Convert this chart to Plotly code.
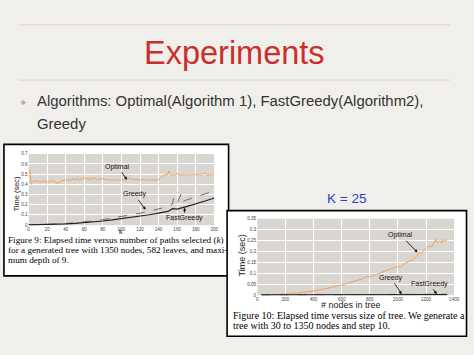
import plotly.graph_objects as go

W, H = 474, 355

# ---------------- data: Figure 9 (time vs k) ----------------
k_opt = [1, 2, 3, 4, 6, 8, 10, 12, 14, 16,
         18, 20, 22, 24, 26, 28, 30, 32, 34, 36,
         38, 40, 42, 44, 46, 48, 50, 52, 54, 56,
         58, 60, 62, 64, 66, 68, 70, 72, 74, 76,
         78, 80, 82, 84, 86, 88, 90, 92, 94, 96,
         98, 100, 104, 108, 112, 116, 120, 124, 128, 132,
         136, 140, 142, 144, 146, 148, 150, 151, 152, 154,
         156, 158, 160, 162, 164, 166, 168, 170, 172, 174,
         176, 178, 180, 182, 184, 186, 188, 190, 192, 194,
         196, 198, 200]
t_opt = [0.55, 0.47, 0.40, 0.42, 0.44, 0.425, 0.435, 0.42, 0.43, 0.425,
         0.435, 0.42, 0.43, 0.425, 0.44, 0.43, 0.41, 0.415, 0.42, 0.44,
         0.435, 0.45, 0.43, 0.455, 0.435, 0.46, 0.44, 0.465, 0.435, 0.455,
         0.44, 0.47, 0.445, 0.46, 0.44, 0.47, 0.445, 0.465, 0.44, 0.455,
         0.44, 0.46, 0.445, 0.45, 0.44, 0.445, 0.44, 0.445, 0.44, 0.442,
         0.44, 0.445, 0.44, 0.46, 0.445, 0.45, 0.44, 0.445, 0.44, 0.445,
         0.44, 0.445, 0.46, 0.48, 0.49, 0.495, 0.50, 0.53, 0.50, 0.49,
         0.495, 0.49, 0.51, 0.49, 0.495, 0.49, 0.50, 0.49, 0.495, 0.49,
         0.495, 0.49, 0.50, 0.49, 0.495, 0.49, 0.50, 0.515, 0.49, 0.495,
         0.49, 0.50, 0.495]

k_greedy = [0, 10, 20, 30, 40, 50, 60, 70, 80, 90, 100, 110, 120, 130, 140,
            150, 155, 156, 157, 160, 164, 165, 170, 180, 190, 200]
t_greedy = [0.002, 0.003, 0.005, 0.008, 0.014, 0.021, 0.030, 0.040, 0.052, 0.066,
            0.080, 0.097, 0.115, 0.135, 0.157, 0.180, 0.205, 0.26, 0.20, 0.215,
            0.30, 0.225, 0.245, 0.272, 0.305, 0.340]

k_fast = [0, 10, 20, 30, 40, 50, 60, 70, 80, 90, 100, 110, 120, 130, 140,
          150, 155, 160, 170, 180, 190, 200]
t_fast = [0.001, 0.002, 0.004, 0.007, 0.011, 0.016, 0.022, 0.030, 0.039, 0.049,
          0.060, 0.072, 0.086, 0.100, 0.116, 0.133, 0.160, 0.155, 0.180, 0.205,
          0.235, 0.265]

# ---------------- data: Figure 10 (time vs tree size) ----------------
n_opt = [30, 100, 150, 200, 250, 300, 350, 400, 450, 500, 550, 600, 650, 700,
         750, 780, 800, 850, 900, 950, 1000, 1020, 1050, 1100, 1130, 1150, 1170,
         1200, 1220, 1240, 1260, 1270, 1280, 1300, 1310, 1320, 1330, 1350]
s_opt = [0.0, 0.001, 0.002, 0.004, 0.007, 0.010, 0.014, 0.018, 0.024, 0.030,
         0.037, 0.045, 0.055, 0.064, 0.074, 0.085, 0.083, 0.095, 0.108, 0.120,
         0.130, 0.128, 0.145, 0.160, 0.175, 0.190, 0.195, 0.212, 0.225, 0.220,
         0.240, 0.255, 0.240, 0.250, 0.238, 0.255, 0.245, 0.252]
n_small = [30, 200, 400, 600, 800, 1000, 1200, 1350]
s_greedy = [0.0005, 0.0008, 0.0010, 0.0015, 0.0020, 0.0025, 0.0030, 0.0035]
s_fast = [0.0003, 0.0004, 0.0005, 0.0007, 0.0009, 0.0011, 0.0013, 0.0015]

k_ticks = [0, 20, 40, 60, 80, 100, 120, 140, 160, 180, 200]
t1_ticks = [0, 0.1, 0.2, 0.3, 0.4, 0.5, 0.6, 0.7]
t1_labels = ["0", "0.1", "0.2", "0.3", "0.4", "0.5", "0.6", "0.7"]
n_ticks = [0, 200, 400, 600, 800, 1000, 1200, 1400]
t2_ticks = [0, 0.05, 0.1, 0.15, 0.2, 0.25, 0.3, 0.35]
t2_labels = ["0", "0.05", "0.1", "0.15", "0.2", "0.25", "0.3", "0.35"]

# ---------------- styling ----------------
ORANGE = "#eea060"
GREY = "#6e6e6e"
BLACK = "#222222"
PLOTBG = "#d9d6d1"
SANS = "Liberation Sans, Arial, sans-serif"
SERIF = "Liberation Serif, Times New Roman, serif"


def px(x):
    return x / W


def py(y):
    return 1 - y / H


fig = go.Figure()

fig.add_trace(go.Scatter(x=k_opt, y=t_opt, mode="lines", line=dict(color=ORANGE, width=1),
                         xaxis="x", yaxis="y", showlegend=False))
fig.add_trace(go.Scatter(x=k_greedy, y=t_greedy, mode="lines",
                         line=dict(color=GREY, width=1, dash="dash"),
                         xaxis="x", yaxis="y", showlegend=False))
fig.add_trace(go.Scatter(x=k_fast, y=t_fast, mode="lines", line=dict(color=BLACK, width=1.2),
                         xaxis="x", yaxis="y", showlegend=False))

fig.add_trace(go.Scatter(x=n_opt, y=s_opt, mode="lines", line=dict(color=ORANGE, width=1),
                         xaxis="x2", yaxis="y2", showlegend=False))
fig.add_trace(go.Scatter(x=n_small, y=s_greedy, mode="lines",
                         line=dict(color=GREY, width=1, dash="dash"),
                         xaxis="x2", yaxis="y2", showlegend=False))
fig.add_trace(go.Scatter(x=n_small, y=s_fast, mode="lines", line=dict(color=BLACK, width=1.2),
                         xaxis="x2", yaxis="y2", showlegend=False))

tickfont = dict(family=SANS, size=4.6, color="#444444")
axis_common = dict(showgrid=True, gridcolor="white", gridwidth=0.7, zeroline=False,
                   showline=False, ticks="", tickfont=tickfont, fixedrange=True)

fig.update_layout(
    width=W, height=H, autosize=False,
    margin=dict(l=0, r=0, t=0, b=0, pad=0),
    paper_bgcolor="#f1efec",
    plot_bgcolor="rgba(0,0,0,0)",
    xaxis=dict(domain=[px(28), px(216.5)], range=[0, 200], tickvals=k_ticks,
               anchor="y", **axis_common),
    yaxis=dict(domain=[py(226), py(153.5)], range=[-0.005, 0.7], tickvals=t1_ticks,
               ticktext=t1_labels, anchor="x", **axis_common),
    xaxis2=dict(domain=[px(260), px(460)], range=[0, 1400], tickvals=n_ticks,
                anchor="y2", **axis_common),
    yaxis2=dict(domain=[py(296.8), py(219)], range=[-0.002, 0.35], tickvals=t2_ticks,
                ticktext=t2_labels, anchor="x2", **axis_common),
)

shapes = [
    # horizontal rules around the title
    dict(type="line", xref="paper", yref="paper", x0=px(18), x1=px(456), y0=py(23), y1=py(23),
         line=dict(color="#d9d6d2", width=1), layer="below"),
    dict(type="line", xref="paper", yref="paper", x0=px(18), x1=px(456), y0=py(79), y1=py(79),
         line=dict(color="#d9d6d2", width=1), layer="below"),
    # panel 1 frame
    dict(type="rect", xref="paper", yref="paper", x0=px(3), x1=px(231), y0=py(277), y1=py(144),
         fillcolor="white", line=dict(color="black", width=1.6), layer="below"),
    # panel 2 frame
    dict(type="rect", xref="paper", yref="paper", x0=px(229.5), x1=px(472.5), y0=py(338), y1=py(211),
         fillcolor="white", line=dict(color="black", width=1.6), layer="below"),
    # plot backgrounds
    dict(type="rect", xref="x", yref="y", x0=0, x1=200, y0=-0.005, y1=0.7,
         fillcolor=PLOTBG, line=dict(width=0), layer="below"),
    dict(type="rect", xref="x2", yref="y2", x0=0, x1=1400, y0=-0.002, y1=0.35,
         fillcolor=PLOTBG, line=dict(width=0), layer="below"),
]
fig.update_layout(shapes=shapes)

ann = []
# title and bullet
ann.append(dict(text="Experiments", x=px(237), y=py(52), xref="paper", yref="paper",
                showarrow=False, xanchor="center", yanchor="middle",
                font=dict(family=SANS, size=32.5, color="#c9302c")))
ann.append(dict(text="❖", x=px(22), y=py(102), xref="paper", yref="paper",
                showarrow=False, xanchor="center", yanchor="middle",
                font=dict(family="DejaVu Sans", size=7, color="#a8a29c")))
ann.append(dict(text="Algorithms: Optimal(Algorithm 1), FastGreedy(Algorithm2),",
                x=px(35), y=py(100), xref="paper", yref="paper",
                showarrow=False, xanchor="left", yanchor="middle",
                font=dict(family=SANS, size=14.9, color="#333333")))
ann.append(dict(text="Greedy", x=px(35), y=py(123), xref="paper", yref="paper",
                showarrow=False, xanchor="left", yanchor="middle",
                font=dict(family=SANS, size=14.9, color="#333333")))
ann.append(dict(text="K = 25", x=px(351), y=py(199), xref="paper", yref="paper",
                showarrow=False, xanchor="center", yanchor="middle",
                font=dict(family=SANS, size=13.5, color="#2b40d0")))

# axis titles panel 1
ann.append(dict(text="Time (sec)", x=px(16), y=py(194), xref="paper", yref="paper",
                showarrow=False, textangle=-90, xanchor="center", yanchor="middle",
                font=dict(family=SANS, size=7.5, color="#222222")))
ann.append(dict(text="k", x=px(122), y=py(232.5), xref="paper", yref="paper",
                showarrow=False, xanchor="center", yanchor="middle",
                font=dict(family=SANS, size=7, color="#222222")))
# axis titles panel 2
ann.append(dict(text="Time (sec)", x=px(245), y=py(256), xref="paper", yref="paper",
                showarrow=False, textangle=-90, xanchor="center", yanchor="middle",
                font=dict(family=SANS, size=9, color="#222222")))
ann.append(dict(text="# nodes in tree", x=px(355), y=py(306.5), xref="paper", yref="paper",
                showarrow=False, xanchor="center", yanchor="middle",
                font=dict(family=SANS, size=9, color="#222222")))

# captions
cap1 = ["Figure 9: Elapsed time versus number of paths selected (<i>k</i>)",
        "for a generated tree with 1350 nodes, 582 leaves, and maxi-",
        "mum depth of 9."]
for line, yy in zip(cap1, [241, 251, 260.5]):
    ann.append(dict(text=line, x=px(5.5), y=py(yy), xref="paper", yref="paper",
                    showarrow=False, xanchor="left", yanchor="middle",
                    font=dict(family=SERIF, size=9.2, color="#000000")))
cap2 = ["Figure 10: Elapsed time versus size of tree. We generate a",
        "tree with 30 to 1350 nodes and step 10."]
for line, yy in zip(cap2, [317.5, 327.5]):
    ann.append(dict(text=line, x=px(233.5), y=py(yy), xref="paper", yref="paper",
                    showarrow=False, xanchor="left", yanchor="middle",
                    font=dict(family=SERIF, size=10, color="#000000")))


def arrow_label(text, xr, yr, tip, tail, size):
    return dict(text=text, xref=xr, yref=yr, axref=xr, ayref=yr,
                x=tip[0], y=tip[1], ax=tail[0], ay=tail[1],
                showarrow=True, arrowhead=2, arrowsize=0.7, arrowwidth=0.9,
                arrowcolor="#111111", standoff=0, startstandoff=0,
                font=dict(family=SANS, size=size, color="#111111"))


ann.append(arrow_label("Optimal", "x", "y", (106, 0.445), (96, 0.574), 7))
ann.append(arrow_label("Greedy", "x", "y", (126, 0.15), (114, 0.30), 7))
ann.append(arrow_label("FastGreedy", "x", "y", (168, 0.17), (168, 0.066), 7))
ann.append(arrow_label("Optimal", "x2", "y2", (1139, 0.195), (1020, 0.274), 7))
ann.append(arrow_label("Greedy", "x2", "y2", (1027, 0.004), (950, 0.078), 7))
ann.append(arrow_label("FastGreedy", "x2", "y2", (1276, 0.003), (1225, 0.051), 7))

fig.update_layout(annotations=ann)

# remove the default 8px body margin so the figure sits at the window origin
fig.write_html("out.html",
               config={"displayModeBar": False},
               post_script="document.body.style.margin='0';"
                           "document.body.style.overflow='hidden';")
